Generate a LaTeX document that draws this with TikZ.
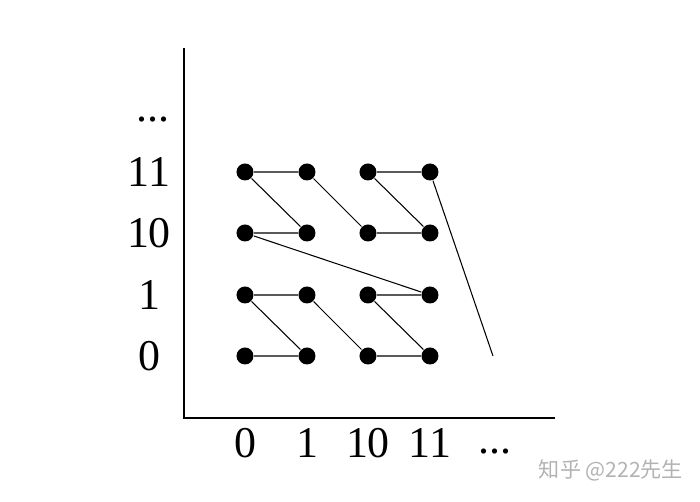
\documentclass[tikz,border=0pt]{standalone}
\usepackage{fontspec}
\setmainfont{Liberation Serif}
\newfontfamily\cjkfont{Noto Sans CJK SC}
\usetikzlibrary{positioning}
\tikzset{
dot/.style={circle, fill=black, inner sep=0pt, minimum size=0.17cm}, % the grid points
curve/.style={line width=0.3pt}, % the path through the points
axis/.style={line width=0.6pt},
label/.style={font=\fontsize{12.5}{14}\selectfont, inner sep=0pt},
}

\begin{document}
\begin{tikzpicture}
  \useasboundingbox (0,0) rectangle (7,5.02);
  % axes
  \coordinate (top) at (1.84,4.54);
  \coordinate (origin) at (1.84,0.84);
  \coordinate (right) at (5.55,0.84);
  \draw[axis] (top) -- (origin) -- (right);
  % grid points
  \foreach \i/\x in {0/2.45, 1/3.07, 2/3.68, 3/4.30}
    \foreach \j/\y in {0/1.46, 1/2.07, 2/2.69, 3/3.30}
      \node[dot] (p\i\j) at (\x,\y) {};
  % labels
  \foreach \t/\x in {0/2.45, 1/3.07, 10/3.68, 11/4.30}
    \node[label] (x\t) at (\x,0.59) {\t};
  \node[label] (xdots) at (4.95,0.50) {...};
  \foreach \t/\y in {0/1.46, 1/2.07, 10/2.69, 11/3.30}
    \node[label] (y\t) at (1.49,\y) {\t};
  \node[label] (ydots) at (1.53,3.82) {...};
  % z-order path
  \coordinate (tail) at (4.93,1.46);
  \draw[curve] (p00) -- (p10) -- (p01) -- (p11)
    -- (p20) -- (p30) -- (p21) -- (p31)
    -- (p02) -- (p12) -- (p03) -- (p13)
    -- (p22) -- (p32) -- (p23) -- (p33) -- (tail);
  \node[text=gray!60, font=\cjkfont\fontsize{6}{7}\selectfont] (mark) at (6.11,0.32) {知乎 @222先生};
\end{tikzpicture}
\end{document}
